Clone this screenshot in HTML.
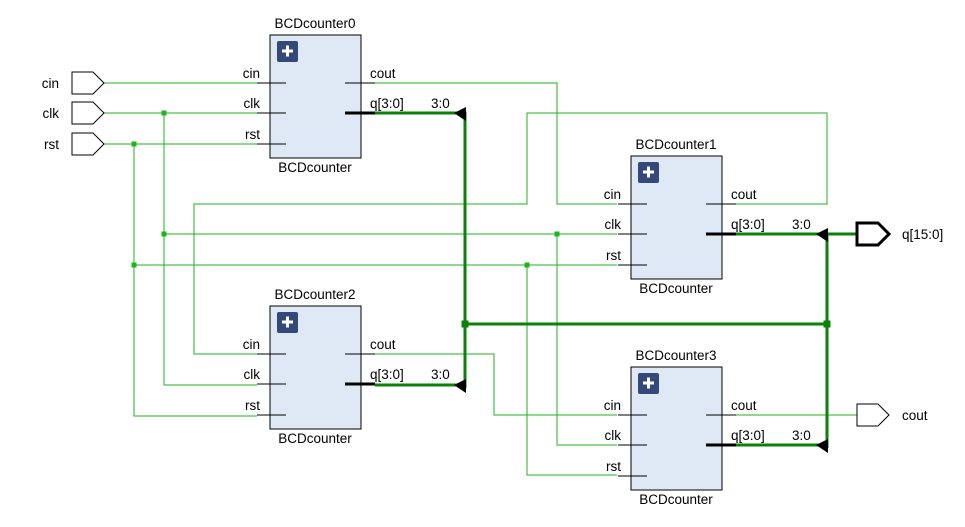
<!DOCTYPE html>
<html><head><meta charset="utf-8"><style>
html,body{margin:0;padding:0;background:#fff;}
svg{display:block;}
text{font-family:"Liberation Sans",sans-serif;font-size:13.5px;fill:#000;}
</style></head><body>
<svg width="965" height="527" viewBox="0 0 965 527" xmlns="http://www.w3.org/2000/svg">
<defs>
<g id="blk">
  <rect x="0" y="0" width="91" height="123" fill="#dfe9f6" stroke="#000" stroke-width="1"/>
  <rect x="7" y="6" width="21" height="21" rx="2" fill="#34497a"/>
  <path d="M17.5 10.5v11M12 16h11" stroke="#fff" stroke-width="3"/>
  <line x1="-13" y1="48" x2="16" y2="48" stroke="#000"/>
  <line x1="-13" y1="78" x2="16" y2="78" stroke="#000"/>
  <line x1="-13" y1="109" x2="16" y2="109" stroke="#000"/>
  <line x1="75" y1="48" x2="105" y2="48" stroke="#000"/>
  <line x1="75" y1="78" x2="105" y2="78" stroke="#000" stroke-width="3"/>
</g>
</defs>

<g stroke="#1fb31f" stroke-width="1" fill="none">
  <path d="M104 83H257"/>
  <path d="M104 113H257"/>
  <path d="M104 144H257"/>
  <path d="M164 113V385H257"/>
  <path d="M164 234H617"/>
  <path d="M557 234V445H617"/>
  <path d="M134 144V416H257"/>
  <path d="M134 265H617"/>
  <path d="M527 265V475H617"/>
  <path d="M375 83H557V204H617"/>
  <path d="M735 204H827V113H527V204H194V354H257"/>
  <path d="M375 354H494V415H617"/>
  <path d="M735 415H857"/>
</g>
<g fill="#1fb31f">
  <rect x="161.5" y="110.5" width="5" height="5"/>
  <rect x="131.5" y="141.5" width="5" height="5"/>
  <rect x="161.5" y="231.5" width="5" height="5"/>
  <rect x="554.5" y="231.5" width="5" height="5"/>
  <rect x="131.5" y="262.5" width="5" height="5"/>
  <rect x="524.5" y="262.5" width="5" height="5"/>
</g>

<g stroke="#0a820a" stroke-width="3" fill="none">
  <path d="M375 113H465V388"/>
  <path d="M375 385H465"/>
  <path d="M465 324H827"/>
  <path d="M735 234H857"/>
  <path d="M827 234V448"/>
  <path d="M735 445H827"/>
</g>
<g fill="#0a820a">
  <rect x="461.5" y="320.5" width="7" height="7"/>
  <rect x="823.5" y="320.5" width="7" height="7"/>
</g>
<g fill="#000">
  <path d="M466 107V121L454 113Z"/>
  <path d="M466 379V393L454 385Z"/>
  <path d="M828 228V242L816 234Z"/>
  <path d="M828 439V453L816 445Z"/>
</g>

<g transform="translate(270,35)"><use href="#blk"/></g>
<g transform="translate(631,156)"><use href="#blk"/></g>
<g transform="translate(270,306)"><use href="#blk"/></g>
<g transform="translate(631,367)"><use href="#blk"/></g>

<g text-anchor="middle">
  <text x="315" y="28">BCDcounter0</text><text x="315" y="172">BCDcounter</text>
  <text x="676" y="149">BCDcounter1</text><text x="676" y="293">BCDcounter</text>
  <text x="315" y="299">BCDcounter2</text><text x="315" y="443">BCDcounter</text>
  <text x="676" y="360">BCDcounter3</text><text x="676" y="504">BCDcounter</text>
</g>
<g text-anchor="end">
  <text x="260" y="78">cin</text><text x="260" y="108">clk</text><text x="260" y="139">rst</text>
  <text x="621" y="199">cin</text><text x="621" y="229">clk</text><text x="621" y="260">rst</text>
  <text x="260" y="349">cin</text><text x="260" y="379">clk</text><text x="260" y="410">rst</text>
  <text x="621" y="410">cin</text><text x="621" y="440">clk</text><text x="621" y="471">rst</text>
</g>
<g>
  <text x="370" y="78">cout</text><text x="370" y="108">q[3:0]</text><text x="431" y="108">3:0</text>
  <text x="731" y="199">cout</text><text x="731" y="229">q[3:0]</text><text x="792" y="229">3:0</text>
  <text x="370" y="349">cout</text><text x="370" y="379">q[3:0]</text><text x="431" y="379">3:0</text>
  <text x="731" y="410">cout</text><text x="731" y="440">q[3:0]</text><text x="792" y="440">3:0</text>
</g>

<g fill="#fff" stroke="#000" stroke-width="1">
  <path d="M72 72H93L104 83L93 94H72Z"/>
  <path d="M72 102H93L104 113L93 124H72Z"/>
  <path d="M72 133H93L104 144L93 155H72Z"/>
  <path d="M857 404H878L889 415L878 426H857Z"/>
  <path d="M857 223H878L889 234L878 245H857Z" stroke-width="3"/>
</g>
<g text-anchor="end">
  <text x="59" y="88">cin</text>
  <text x="59" y="118">clk</text>
  <text x="59" y="149">rst</text>
</g>
<text x="902" y="239">q[15:0]</text>
<text x="902" y="420">cout</text>
</svg>
</body></html>
